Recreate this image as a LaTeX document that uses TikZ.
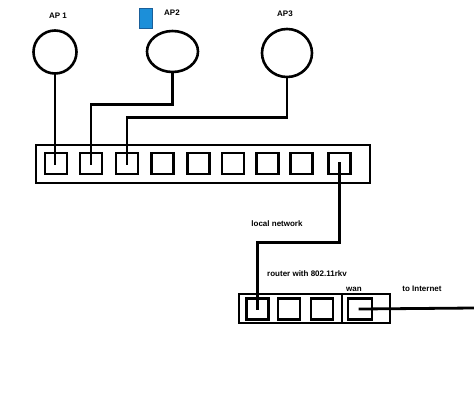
\documentclass[tikz,border=0pt]{standalone}
\usepackage{fontspec}
\setmainfont{Liberation Sans}
\usetikzlibrary{shapes.geometric}
\definecolor{devblue}{HTML}{1C8FD9}
\definecolor{devedge}{HTML}{1A5F9A}
\tikzset{
  wire/.style={line width=2.8pt, line cap=rect},
  apnode/.style={draw, ellipse, line width=2.6pt, inner sep=0pt},
  portbox/.style={draw, rectangle, line width=2.6pt, minimum width=22pt, minimum height=21pt, inner sep=0pt},
  casebox/.style={draw, rectangle, line width=2.6pt, inner sep=0pt},
  lbl/.style={font=\fontsize{8}{9.5}\selectfont\bfseries, inner sep=0pt}
}
\begin{document}
\begin{tikzpicture}[x=1pt,y=-1pt]
\useasboundingbox (0,0) rectangle (474,415);
% access points
\node[apnode, minimum width=43pt, minimum height=43pt] (ap1) at (55,52) {};
\node[apnode, minimum width=51pt, minimum height=41pt] (ap2) at (172.5,51.5) {};
\node[apnode, minimum width=50pt, minimum height=48pt] (ap3) at (287,53) {};
\node[lbl] (l1) at (58,16) {AP 1};
\node[lbl] (l2) at (172,13) {AP2};
\node[lbl] (l3) at (285,14) {AP3};
\node[draw=devedge, fill=devblue, line width=0.6pt, minimum width=13pt, minimum height=20pt, inner sep=0pt] (dev) at (146,18.5) {};
% switch
\node[casebox, minimum width=334pt, minimum height=38pt] (sw) at (203,164) {};
\foreach \i/\x in {1/56,2/91,3/127,4/162.5,5/198.5,6/233,7/267.5,8/301.5,9/339.5}{
  \node[portbox] (p\i) at (\x,163.5) {};
}
% router
\node[casebox, minimum width=151pt, minimum height=29pt] (rt) at (314.5,308.5) {};
\coordinate (divt) at (342,294);
\coordinate (divb) at (342,323);
\draw[line width=2.6pt] (divt) -- (divb);
\foreach \i/\x in {1/257.5,2/289,3/322}{
  \node[portbox] (r\i) at (\x,309) {};
}
\node[portbox, minimum width=24pt] (wan) at (360,309) {};
% labels
\node[lbl] (ln) at (277,224) {local network};
\node[lbl] (rl) at (307,274) {router with 802.11rkv};
\node[lbl] (wl) at (354,289) {wan};
\node[lbl] (il) at (422,289) {to Internet};
% wires
\draw[wire] (ap1.south) -- (ap1.south |- p1.center);
\draw[wire] (ap2.south) -- ++(0,31) -| (p2.center);
\draw[wire] (ap3.south) -- ++(0,39) -| (p3.center);
\draw[wire] (p9.center) -- ++(0,79) -| (r1.center);
\coordinate (inet) at (474,308);
\draw[wire] (wan.center) -- (inet);
\end{tikzpicture}
\end{document}
